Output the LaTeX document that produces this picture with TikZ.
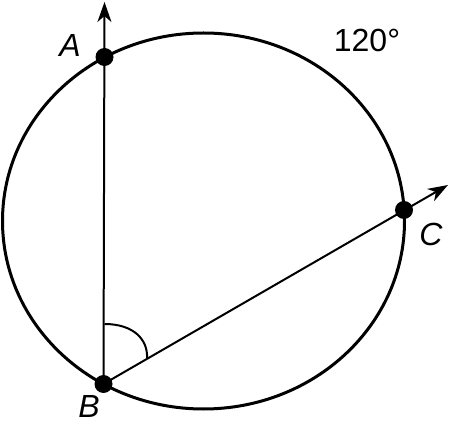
\documentclass[tikz,border=0pt]{standalone}
\usepackage{fontspec}
\setmainfont{Liberation Sans}
\usetikzlibrary{arrows.meta}
\usetikzlibrary{calc}

\begin{document}
\begin{tikzpicture}[x=1pt,y=-1pt,>={Stealth[length=20pt,width=14pt,inset=6pt]},
			line width=2pt]
			\tikzstyle{dot}=[circle,fill,inner sep=0pt,minimum size=18pt]
			\tikzstyle{lbl}=[font=\fontsize{32}{32}\selectfont\itshape,inner sep=0pt]
			\useasboundingbox (0,0) rectangle (450,430);
			
			\draw[line width=3pt] (203.5,221) ellipse [x radius=201, y radius=188];
			
			\node[dot]         (A) at (104.5,57)      {};
			\node[dot]         (B) at (103.5,384)     {};
			\node[dot]         (C) at (404,210)       {};
			\coordinate        (A_tip) at (104.5,2);
			\coordinate        (C_tip) at (448,185);
			
			\draw[->] (B.center) -- (A_tip);
			\draw[->] (B.center) -- (C_tip);
			% angle at B
			\draw (104.5,324) .. controls (134,324) and (148,340) .. (147,358);
			
			\node[lbl]  (A_label) at (70,45)   {A};
			\node[lbl]  (B_label) at (89,406)  {B};
			\node[lbl]  (C_label) at (431,234) {C};
			\node[font=\fontsize{32}{32}\selectfont,inner sep=0pt,anchor=base] (arc) at (367,52) {120°};
			
			;
			\end{tikzpicture}
\end{document}
